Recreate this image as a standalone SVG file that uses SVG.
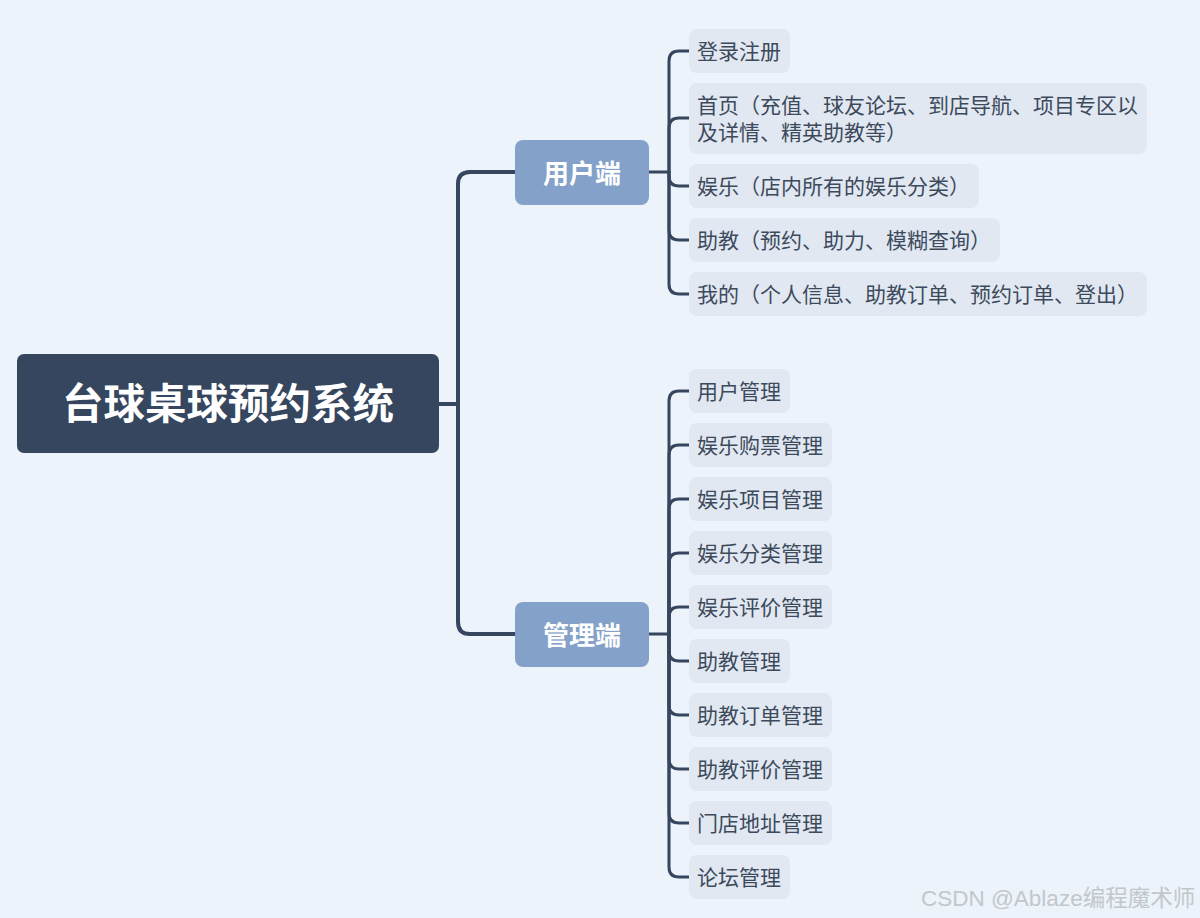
<svg xmlns="http://www.w3.org/2000/svg" width="1200" height="918" viewBox="0 0 1200 918">
<style>
.bg{fill:#ecf3fa}
.root{fill:#35465e}
.sec{fill:#84a2c9}
.leaf{fill:#e1e8f1}
.rt{font-family:"Noto Sans CJK SC","Noto Sans",sans-serif;font-weight:bold;fill:#ffffff;text-anchor:middle}
.lt{font-family:"Noto Sans CJK SC","Noto Sans",sans-serif;font-size:21px;fill:#3d4a5c}
.c1{fill:none;stroke:#35465e;stroke-width:4;stroke-linecap:round}
.c2{fill:none;stroke:#35465e;stroke-width:3;stroke-linecap:round}
.wm{font-family:"Liberation Sans","Noto Sans CJK SC",sans-serif;font-size:22.5px;fill:#c3c7cc}
</style>
<rect class="bg" x="0" y="0" width="1200" height="918"/>
<g id="connectors">
<path class="c1" d="M439,404 H458"/>
<path class="c1" d="M515,172 H470 Q458,172 458,184 V622 Q458,634 470,634 H515"/>
<path class="c2" d="M649,172 H669"/>
<path class="c2" d="M669,172 V61 Q669,51 679,51 H689"/>
<path class="c2" d="M669,172 V128 Q669,118 679,118 H689"/>
<path class="c2" d="M669,172 V176 Q669,186 679,186 H689"/>
<path class="c2" d="M669,172 V230 Q669,240 679,240 H689"/>
<path class="c2" d="M669,172 V284 Q669,294 679,294 H689"/>
<path class="c2" d="M649,634 H669"/>
<path class="c2" d="M669,634 V401 Q669,391 679,391 H689"/>
<path class="c2" d="M669,634 V455 Q669,445 679,445 H689"/>
<path class="c2" d="M669,634 V509 Q669,499 679,499 H689"/>
<path class="c2" d="M669,634 V563 Q669,553 679,553 H689"/>
<path class="c2" d="M669,634 V617 Q669,607 679,607 H689"/>
<path class="c2" d="M669,634 V651 Q669,661 679,661 H689"/>
<path class="c2" d="M669,634 V705 Q669,715 679,715 H689"/>
<path class="c2" d="M669,634 V759 Q669,769 679,769 H689"/>
<path class="c2" d="M669,634 V813 Q669,823 679,823 H689"/>
<path class="c2" d="M669,634 V867 Q669,877 679,877 H689"/>
</g>
<g id="root">
<rect class="root" x="17" y="354" width="422" height="99" rx="7"/>
<text class="rt" x="228" y="419" font-size="41.5">台球桌球预约系统</text>
</g>
<g id="user">
<rect class="sec" x="515" y="140" width="134" height="65" rx="8"/>
<text class="rt" x="582" y="183" font-size="26">用户端</text>
</g>
<g id="admin">
<rect class="sec" x="515" y="602" width="134" height="65" rx="8"/>
<text class="rt" x="582" y="645" font-size="26">管理端</text>
</g>
<g id="u1"><rect class="leaf" x="689" y="29" width="101" height="44" rx="8"/><text class="lt" x="697" y="59">登录注册</text></g>
<g id="u2"><rect class="leaf" x="689" y="83" width="458" height="71" rx="8"/><text class="lt"><tspan x="697" y="113">首页（充值、球友论坛、到店导航、项目专区以</tspan><tspan x="697" y="140">及详情、精英助教等）</tspan></text></g>
<g id="u3"><rect class="leaf" x="689" y="164" width="290" height="44" rx="8"/><text class="lt" x="697" y="194">娱乐（店内所有的娱乐分类）</text></g>
<g id="u4"><rect class="leaf" x="689" y="218" width="311" height="44" rx="8"/><text class="lt" x="697" y="248">助教（预约、助力、模糊查询）</text></g>
<g id="u5"><rect class="leaf" x="689" y="272" width="458" height="44" rx="8"/><text class="lt" x="697" y="302">我的（个人信息、助教订单、预约订单、登出）</text></g>
<g id="a1"><rect class="leaf" x="689" y="369" width="101" height="44" rx="8"/><text class="lt" x="697" y="399">用户管理</text></g>
<g id="a2"><rect class="leaf" x="689" y="423" width="143" height="44" rx="8"/><text class="lt" x="697" y="453">娱乐购票管理</text></g>
<g id="a3"><rect class="leaf" x="689" y="477" width="143" height="44" rx="8"/><text class="lt" x="697" y="507">娱乐项目管理</text></g>
<g id="a4"><rect class="leaf" x="689" y="531" width="143" height="44" rx="8"/><text class="lt" x="697" y="561">娱乐分类管理</text></g>
<g id="a5"><rect class="leaf" x="689" y="585" width="143" height="44" rx="8"/><text class="lt" x="697" y="615">娱乐评价管理</text></g>
<g id="a6"><rect class="leaf" x="689" y="639" width="101" height="44" rx="8"/><text class="lt" x="697" y="669">助教管理</text></g>
<g id="a7"><rect class="leaf" x="689" y="693" width="143" height="44" rx="8"/><text class="lt" x="697" y="723">助教订单管理</text></g>
<g id="a8"><rect class="leaf" x="689" y="747" width="143" height="44" rx="8"/><text class="lt" x="697" y="777">助教评价管理</text></g>
<g id="a9"><rect class="leaf" x="689" y="801" width="143" height="44" rx="8"/><text class="lt" x="697" y="831">门店地址管理</text></g>
<g id="a10"><rect class="leaf" x="689" y="855" width="101" height="44" rx="8"/><text class="lt" x="697" y="885">论坛管理</text></g>
<text class="wm" x="921" y="906">CSDN @Ablaze编程魔术师</text>
</svg>
